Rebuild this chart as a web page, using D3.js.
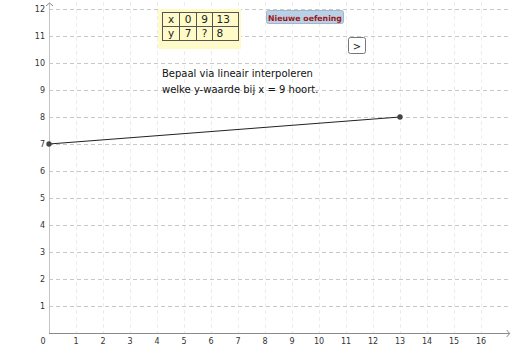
<!DOCTYPE html>
<html>
<head>
<meta charset="utf-8">
<script src="https://cdn.jsdelivr.net/npm/d3@7"></script>
<style>
  body { margin: 0; background: #fff; }
  svg { display: block; font-family: "DejaVu Sans", sans-serif; }
</style>
</head>
<body>
<script>
// data
var xTicks = [0, 1, 2, 3, 4, 5, 6, 7, 8, 9, 10, 11, 12, 13, 14, 15, 16];
var yTicks = [1, 2, 3, 4, 5, 6, 7, 8, 9, 10, 11, 12];
var linePoints = [{x: 0, y: 7}, {x: 13, y: 8}];
var tableX = ["x", "0", "9", "13"];
var tableY = ["y", "7", "?", "8"];
var question = ["Bepaal via lineair interpoleren", "welke y-waarde bij x = 9 hoort."];

var width = 512, height = 347;

var svg = d3.select("body").append("svg")
  .attr("width", width)
  .attr("height", height);

// 27px per unit, origin at (49, 333)
var x = d3.scaleLinear().domain([0, 17.1]).range([49, 49 + 17.1 * 27]);
var y = d3.scaleLinear().domain([0, 12.26]).range([333, 333 - 12.26 * 27]);

// vertical grid (faint)
svg.append("g").selectAll("line")
  .data(xTicks.filter(function(d){ return d > 0; }))
  .enter().append("line")
  .attr("x1", function(d){ return Math.round(x(d)) + 0.5; })
  .attr("x2", function(d){ return Math.round(x(d)) + 0.5; })
  .attr("y1", y(12.26))
  .attr("y2", y(0))
  .attr("stroke", "#ececec")
  .attr("stroke-dasharray", "4,3");

// horizontal grid
svg.append("g").selectAll("line")
  .data(yTicks)
  .enter().append("line")
  .attr("x1", x(0))
  .attr("x2", x(17.1))
  .attr("y1", function(d){ return Math.round(y(d)) + 0.5; })
  .attr("y2", function(d){ return Math.round(y(d)) + 0.5; })
  .attr("stroke", "#c8c8c8")
  .attr("stroke-dasharray", "4,3");

// axes
svg.append("line")
  .attr("x1", x(0)).attr("x2", x(17.1) - 1)
  .attr("y1", y(0) + 0.5).attr("y2", y(0) + 0.5)
  .attr("stroke", "#8a8a8a");
svg.append("path")
  .attr("d", "M" + (x(17.1) - 4) + "," + (y(0) - 3) + " L" + (x(17.1) - 1) + "," + (y(0) + 0.5) + " L" + (x(17.1) - 4) + "," + (y(0) + 4))
  .attr("fill", "none").attr("stroke", "#8a8a8a");

svg.append("line")
  .attr("x1", x(0) + 0.5).attr("x2", x(0) + 0.5)
  .attr("y1", y(0)).attr("y2", y(12.26) + 1)
  .attr("stroke", "#c4c4c4");
svg.append("path")
  .attr("d", "M" + (x(0) - 3) + "," + (y(12.26) + 4) + " L" + (x(0) + 0.5) + "," + (y(12.26) + 1) + " L" + (x(0) + 4) + "," + (y(12.26) + 4))
  .attr("fill", "none").attr("stroke", "#8a8a8a");

// tick labels
svg.append("g").selectAll("text")
  .data(xTicks)
  .enter().append("text")
  .attr("x", function(d){ return d === 0 ? x(0) - 6 : x(d); })
  .attr("y", y(0) + 11)
  .attr("text-anchor", "middle")
  .attr("font-size", 8)
  .attr("fill", "#333")
  .text(function(d){ return d; });

svg.append("g").selectAll("text")
  .data(yTicks)
  .enter().append("text")
  .attr("x", x(0) - 4)
  .attr("y", function(d){ return y(d) + 3; })
  .attr("text-anchor", "end")
  .attr("font-size", 8)
  .attr("fill", "#333")
  .text(function(d){ return d; });

// line segment and endpoints
var lineFn = d3.line()
  .x(function(d){ return x(d.x); })
  .y(function(d){ return y(d.y); });

svg.append("path")
  .attr("d", lineFn(linePoints))
  .attr("fill", "none")
  .attr("stroke", "#222")
  .attr("stroke-width", 1);

svg.append("g").selectAll("circle")
  .data(linePoints)
  .enter().append("circle")
  .attr("cx", function(d){ return x(d.x); })
  .attr("cy", function(d){ return y(d.y); })
  .attr("r", 2.7)
  .attr("fill", "#444");

// table box
svg.append("rect")
  .attr("x", 158).attr("y", 9)
  .attr("width", 83).attr("height", 40)
  .attr("fill", "#fffbc8");

var colEdges = [162.5, 179.5, 196.5, 212.5, 238.5];
var rowEdges = [12.5, 26.5, 40.5];
var rows = [tableX, tableY];

var tbl = svg.append("g");
tbl.append("rect")
  .attr("x", colEdges[0]).attr("y", rowEdges[0])
  .attr("width", colEdges[4] - colEdges[0])
  .attr("height", rowEdges[2] - rowEdges[0])
  .attr("fill", "none").attr("stroke", "#555");
tbl.append("line")
  .attr("x1", colEdges[0]).attr("x2", colEdges[4])
  .attr("y1", rowEdges[1]).attr("y2", rowEdges[1])
  .attr("stroke", "#555");
colEdges.slice(1, 4).forEach(function(c){
  tbl.append("line")
    .attr("x1", c).attr("x2", c)
    .attr("y1", rowEdges[0]).attr("y2", rowEdges[2])
    .attr("stroke", "#555");
});
rows.forEach(function(row, r){
  row.forEach(function(v, i){
    tbl.append("text")
      .attr("x", i === 3 ? colEdges[i] + 4 : (colEdges[i] + colEdges[i + 1]) / 2)
      .attr("y", rowEdges[r] + 10.5)
      .attr("text-anchor", i === 3 ? "start" : "middle")
      .attr("font-size", 10.5)
      .attr("fill", "#222")
      .text(v);
  });
});

// "Nieuwe oefening" button
svg.append("rect")
  .attr("x", 266.5).attr("y", 10.5)
  .attr("width", 77).attr("height", 13)
  .attr("rx", 2)
  .attr("fill", "#b9d1e6").attr("stroke", "#9fb7cc");
svg.append("text")
  .attr("x", 305).attr("y", 20.5)
  .attr("text-anchor", "middle")
  .attr("font-size", 7.8)
  .attr("font-weight", "bold")
  .attr("fill", "#a01414")
  .text("Nieuwe oefening");

// ">" button
svg.append("rect")
  .attr("x", 348.5).attr("y", 37.5)
  .attr("width", 17).attr("height", 16)
  .attr("rx", 2)
  .attr("fill", "#fff").attr("stroke", "#777");
svg.append("text")
  .attr("x", 357).attr("y", 49.5)
  .attr("text-anchor", "middle")
  .attr("font-size", 10)
  .attr("fill", "#222")
  .text(">");

// question text
svg.append("g").selectAll("text")
  .data(question)
  .enter().append("text")
  .attr("x", 162)
  .attr("y", function(d, i){ return 77 + i * 16; })
  .attr("font-size", 10)
  .attr("fill", "#111")
  .text(function(d){ return d; });
</script>
</body>
</html>
